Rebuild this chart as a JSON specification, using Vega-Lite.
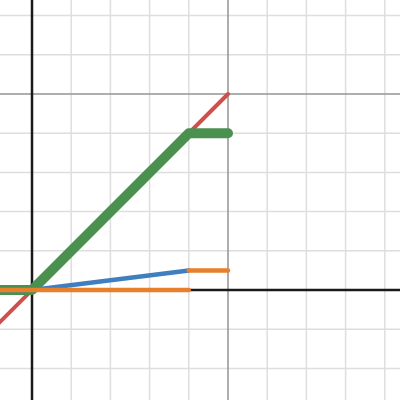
{
  "$schema": "https://vega.github.io/schema/vega-lite/v6.json",
  "autosize": {"type": "fit", "contains": "padding"},
  "width": 400,
  "height": 400,
  "padding": 0,
  "background": "white",
  "config": {"view": {"stroke": null}},
  "datasets": {
    "curves": [
      {"series": "red", "seg": "a", "x": -0.6, "y": -0.6},
      {"series": "red", "seg": "a", "x": 1, "y": 1},
      {"series": "green", "seg": "a", "x": -0.6, "y": 0},
      {"series": "green", "seg": "a", "x": 0, "y": 0},
      {"series": "green", "seg": "a", "x": 0.8, "y": 0.8},
      {"series": "green", "seg": "a", "x": 1, "y": 0.8},
      {"series": "blue", "seg": "a", "x": -0.6, "y": 0},
      {"series": "blue", "seg": "a", "x": 0, "y": 0},
      {"series": "blue", "seg": "a", "x": 0.8, "y": 0.1},
      {"series": "orange", "seg": "a", "x": -0.6, "y": 0},
      {"series": "orange", "seg": "a", "x": 0.8, "y": 0},
      {"series": "orange", "seg": "b", "x": 0.8, "y": 0.1},
      {"series": "orange", "seg": "b", "x": 1, "y": 0.1}
    ],
    "grid": [
      {"dir": "v", "kind": "minor", "v": -0.2},
      {"dir": "v", "kind": "minor", "v": 0.2},
      {"dir": "v", "kind": "minor", "v": 0.4},
      {"dir": "v", "kind": "minor", "v": 0.6},
      {"dir": "v", "kind": "minor", "v": 0.8},
      {"dir": "v", "kind": "minor", "v": 1.2},
      {"dir": "v", "kind": "minor", "v": 1.4},
      {"dir": "v", "kind": "minor", "v": 1.6},
      {"dir": "v", "kind": "minor", "v": 1.8},
      {"dir": "h", "kind": "minor", "v": -0.6},
      {"dir": "h", "kind": "minor", "v": -0.4},
      {"dir": "h", "kind": "minor", "v": -0.2},
      {"dir": "h", "kind": "minor", "v": 0.2},
      {"dir": "h", "kind": "minor", "v": 0.4},
      {"dir": "h", "kind": "minor", "v": 0.6},
      {"dir": "h", "kind": "minor", "v": 0.8},
      {"dir": "h", "kind": "minor", "v": 1.2},
      {"dir": "h", "kind": "minor", "v": 1.4},
      {"dir": "v", "kind": "major", "v": 1},
      {"dir": "h", "kind": "major", "v": 1},
      {"dir": "v", "kind": "axis", "v": 0},
      {"dir": "h", "kind": "axis", "v": 0}
    ]
  },
  "layer": [
    {
      "data": {"name": "grid"},
      "transform": [{"filter": "datum.dir == 'v' && datum.kind == 'minor'"}],
      "mark": {"type": "rule", "clip": true, "color": "#dedede", "strokeWidth": 1.5},
      "encoding": {"x": {"field": "v", "type": "quantitative", "axis": null, "scale": {"domain": [-0.1633, 1.8776], "nice": false, "zero": false}}}
    },
    {
      "data": {"name": "grid"},
      "transform": [{"filter": "datum.dir == 'h' && datum.kind == 'minor'"}],
      "mark": {"type": "rule", "clip": true, "color": "#dedede", "strokeWidth": 1.5},
      "encoding": {"y": {"field": "v", "type": "quantitative", "axis": null, "scale": {"domain": [-0.5612, 1.4796], "nice": false, "zero": false}}}
    },
    {
      "data": {"name": "grid"},
      "transform": [{"filter": "datum.dir == 'v' && datum.kind == 'major'"}],
      "mark": {"type": "rule", "clip": true, "color": "#939393", "strokeWidth": 1.5},
      "encoding": {"x": {"field": "v", "type": "quantitative", "axis": null, "scale": {"domain": [-0.1633, 1.8776], "nice": false, "zero": false}}}
    },
    {
      "data": {"name": "grid"},
      "transform": [{"filter": "datum.dir == 'h' && datum.kind == 'major'"}],
      "mark": {"type": "rule", "clip": true, "color": "#939393", "strokeWidth": 1.5},
      "encoding": {"y": {"field": "v", "type": "quantitative", "axis": null, "scale": {"domain": [-0.5612, 1.4796], "nice": false, "zero": false}}}
    },
    {
      "data": {"name": "grid"},
      "transform": [{"filter": "datum.dir == 'v' && datum.kind == 'axis'"}],
      "mark": {"type": "rule", "clip": true, "color": "#1a1a1a", "strokeWidth": 2.5},
      "encoding": {"x": {"field": "v", "type": "quantitative", "axis": null, "scale": {"domain": [-0.1633, 1.8776], "nice": false, "zero": false}}}
    },
    {
      "data": {"name": "grid"},
      "transform": [{"filter": "datum.dir == 'h' && datum.kind == 'axis'"}],
      "mark": {"type": "rule", "clip": true, "color": "#1a1a1a", "strokeWidth": 2.5},
      "encoding": {"y": {"field": "v", "type": "quantitative", "axis": null, "scale": {"domain": [-0.5612, 1.4796], "nice": false, "zero": false}}}
    },
    {
      "data": {"name": "curves"},
      "transform": [{"filter": "datum.series == 'red'"}],
      "mark": {"type": "line", "clip": true, "color": "#d04f4b", "strokeWidth": 4, "strokeCap": "round"},
      "encoding": {
        "x": {"field": "x", "type": "quantitative", "axis": null, "scale": {"domain": [-0.1633, 1.8776], "nice": false, "zero": false}},
        "y": {"field": "y", "type": "quantitative", "axis": null, "scale": {"domain": [-0.5612, 1.4796], "nice": false, "zero": false}},
        "detail": {"field": "seg"}
      }
    },
    {
      "data": {"name": "curves"},
      "transform": [{"filter": "datum.series == 'green'"}],
      "mark": {"type": "line", "clip": true, "color": "#4a9150", "strokeWidth": 10, "strokeCap": "round", "strokeJoin": "round"},
      "encoding": {
        "x": {"field": "x", "type": "quantitative", "axis": null, "scale": {"domain": [-0.1633, 1.8776], "nice": false, "zero": false}},
        "y": {"field": "y", "type": "quantitative", "axis": null, "scale": {"domain": [-0.5612, 1.4796], "nice": false, "zero": false}},
        "detail": {"field": "seg"}
      }
    },
    {
      "data": {"name": "curves"},
      "transform": [{"filter": "datum.series == 'blue'"}],
      "mark": {"type": "line", "clip": true, "color": "#3f7fbf", "strokeWidth": 4.5, "strokeCap": "round"},
      "encoding": {
        "x": {"field": "x", "type": "quantitative", "axis": null, "scale": {"domain": [-0.1633, 1.8776], "nice": false, "zero": false}},
        "y": {"field": "y", "type": "quantitative", "axis": null, "scale": {"domain": [-0.5612, 1.4796], "nice": false, "zero": false}},
        "detail": {"field": "seg"}
      }
    },
    {
      "data": {"name": "curves"},
      "transform": [{"filter": "datum.series == 'orange'"}],
      "mark": {"type": "line", "clip": true, "color": "#e8802b", "strokeWidth": 4.5, "strokeCap": "round"},
      "encoding": {
        "x": {"field": "x", "type": "quantitative", "axis": null, "scale": {"domain": [-0.1633, 1.8776], "nice": false, "zero": false}},
        "y": {"field": "y", "type": "quantitative", "axis": null, "scale": {"domain": [-0.5612, 1.4796], "nice": false, "zero": false}},
        "detail": {"field": "seg"}
      }
    }
  ]
}
